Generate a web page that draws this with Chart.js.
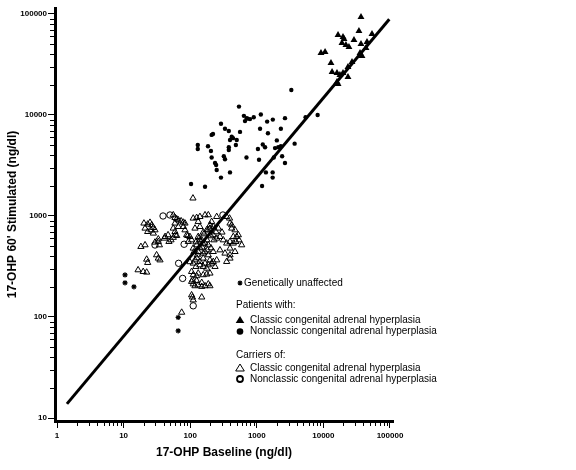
<!DOCTYPE html>
<html>
<head>
<meta charset="utf-8">
<title>17-OHP baseline vs stimulated</title>
<script src="https://cdn.jsdelivr.net/npm/chart.js@4.4.0/dist/chart.umd.min.js"></script>
<style>
  html, body { margin: 0; padding: 0; background: #fff; }
  #wrap { width: 576px; height: 470px; }
</style>
</head>
<body>
<div id="wrap"><canvas id="myChart" width="576" height="470"></canvas></div>
<script>
// values, [baseline, stimulated] in ng/dl
const unaffected = [[10.5, 261], [10.5, 218], [14.3, 199], [66, 99], [66, 73]];

const patientsClassic = [
  [36700, 93300], [34200, 67900], [16600, 61900], [19700, 59200], [20400, 56500],
  [28800, 55300], [53700, 63400], [19000, 51600], [21800, 49300], [24200, 47100],
  [36700, 50500], [45200, 52800], [9200, 41100], [10600, 42100], [35500, 41100],
  [38000, 38400], [13000, 32700], [13500, 26700], [16000, 26100], [17700, 24900],
  [19700, 26100], [23400, 29900], [23400, 23800], [16000, 21200], [16600, 20300],
  [26900, 33500], [43600, 46100]
];

const patientsNonclassic = [
  [540, 12100], [640, 9800], [705, 9300], [730, 9200], [665, 8700], [790, 9100],
  [900, 9500], [1150, 10100], [1430, 8600], [1740, 9000], [2650, 9300], [5400, 9500],
  [8200, 10000], [290, 8200], [333, 7300], [380, 6950], [560, 6800], [1120, 7300],
  [1470, 6600], [2300, 7300], [210, 6350], [220, 6500], [420, 6100], [440, 5900],
  [396, 5650], [500, 5650], [485, 5050], [2000, 5600], [3700, 5200], [130, 5050],
  [130, 4600], [185, 4900], [380, 4800], [380, 4500], [1040, 4600], [1230, 5100],
  [1330, 4800], [1880, 4700], [2100, 4800], [2300, 4900], [205, 4400], [210, 3800],
  [320, 3900], [333, 3650], [700, 3800], [1080, 3600], [1800, 3800], [2400, 3900],
  [236, 3350], [245, 3200], [2650, 3350], [250, 2850], [396, 2700], [1370, 2700],
  [1730, 2700], [1730, 2400], [290, 2400], [103, 2075], [167, 1950], [1200, 1980],
  [3300, 17700]
];

const carriersClassic = [
  [55.7, 1023], [59.1, 962], [62.7, 934], [66.3, 913], [73, 892], [78.8, 865],
  [20.2, 847], [23, 828], [24.9, 862], [26.5, 814], [28, 766], [29.6, 726], [23, 699], [25.8, 726],
  [59.1, 847], [66.3, 783], [55.7, 755], [59.1, 699], [62.7, 638], [83.5, 726], [92, 638],
  [41, 601], [33.2, 591], [29.6, 549], [34.5, 516], [18.2, 497], [48, 557], [51.5, 578],
  [55.7, 612], [60, 649], [31.3, 411], [33.2, 381], [35.2, 366], [22.2, 372], [23, 345],
  [16.5, 292], [19.7, 281], [22.2, 277], [21, 755], [28, 674], [21, 516], [33.2, 557],
  [42, 624], [46.5, 649], [140, 984], [187, 1023], [250, 984], [420, 814], [471, 726],
  [499, 624], [444, 537], [396, 479], [210, 340], [236, 315], [177, 303], [198, 271],
  [105, 165], [111, 147], [74.5, 111], [110, 1500], [83.5, 847], [78.8, 783], [111, 949],
  [125, 962], [132, 879], [140, 783], [118, 755], [167, 1023], [210, 879], [198, 814],
  [353, 984], [390, 949], [396, 847], [420, 755], [528, 649], [444, 624], [88.5, 649],
  [99, 624], [105, 578], [93.6, 557], [132, 624], [149, 578], [167, 537], [187, 516],
  [222, 649], [250, 601], [280, 624], [314, 578], [353, 537], [396, 557], [485, 557],
  [540, 578], [593, 516], [111, 479], [132, 443], [157, 427], [187, 411], [222, 443],
  [280, 460], [333, 427], [396, 411], [471, 443], [118, 366], [140, 353], [167, 340],
  [198, 366], [222, 353], [250, 366], [353, 353], [396, 381], [111, 340], [122, 315],
  [140, 327], [157, 315], [187, 327], [105, 281], [111, 261], [125, 255], [132, 271],
  [157, 261], [177, 265], [105, 224], [111, 212], [118, 203], [132, 207], [149, 200],
  [167, 203], [187, 212], [198, 203], [108, 232], [125, 229], [149, 219], [108, 157],
  [149, 157], [157, 690], [177, 726], [198, 755], [222, 785], [140, 578], [125, 516],
  [152, 490], [182, 460], [128, 411], [157, 381], [265, 755], [300, 690],
  [122, 553], [136, 605], [161, 663], [179, 578], [205, 634], [114, 441], [140, 482],
  [167, 441], [205, 482], [99, 351], [126, 384], [228, 578], [185, 726], [244, 695],
  [157, 528]
];

const carriersNonclassic = [
  [39.1, 1000], [49.7, 1023], [29.6, 516], [81, 525], [67, 340], [77, 241],
  [111, 129], [310, 1023]
];

// regression line end points
const fitLine = [[1.41, 13.8], [97700, 88500]];

// axis ticks
const decades = [1, 10, 100, 1000, 10000, 100000];
const minorSteps = [2, 3, 4, 5, 6, 7, 8, 9];
const yDecades = [10, 100, 1000, 10000, 100000];

const legendRows = [
  { text: 'Genetically unaffected', mark: 'star' },
  { text: 'Patients with:', head: true },
  { text: 'Classic congenital adrenal hyperplasia', mark: 'triFill' },
  { text: 'Nonclassic congenital adrenal hyperplasia', mark: 'dot' },
  { text: 'Carriers of:', head: true },
  { text: 'Classic congenital adrenal hyperplasia', mark: 'triOpen' },
  { text: 'Nonclassic congenital adrenal hyperplasia', mark: 'ring' }
];

function toXY(arr) { return arr.map(p => ({ x: p[0], y: p[1] })); }

function tickList(majors) {
  const out = [];
  majors.forEach((d, i) => {
    out.push({ value: d, major: true });
    if (i < majors.length - 1) minorSteps.forEach(m => out.push({ value: d * m, major: false }));
  });
  return out;
}

const FONT = '"Liberation Sans", Arial, sans-serif';

const extras = {
  id: 'extras',
  afterDraw(chart) {
    const ctx = chart.ctx;
    const area = chart.chartArea;
    const xs = chart.scales.x, ys = chart.scales.y;
    ctx.save();
    // minor ticks (shorter than the major ones)
    ctx.strokeStyle = '#000';
    ctx.lineWidth = 1;
    ctx.beginPath();
    xs.ticks.forEach(t => {
      if (t.major) return;
      const px = Math.round(xs.getPixelForValue(t.value)) + 0.5;
      ctx.moveTo(px, area.bottom + 1);
      ctx.lineTo(px, area.bottom + 5);
    });
    ys.ticks.forEach(t => {
      if (t.major) return;
      const py = Math.round(ys.getPixelForValue(t.value)) + 0.5;
      ctx.moveTo(area.left - 5, py);
      ctx.lineTo(area.left - 1, py);
    });
    ctx.stroke();

    // legend
    const ys0 = [283, 305, 320, 331.5, 355, 368, 379];
    ctx.font = '10px ' + FONT;
    ctx.textBaseline = 'middle';
    ctx.fillStyle = '#000';
    legendRows.forEach((row, i) => {
      const y = ys0[i];
      if (row.head) { ctx.fillText(row.text, 236, y); return; }
      const mx = 240;
      ctx.beginPath();
      if (row.mark === 'star') {
        ctx.lineWidth = 1.2;
        for (let k = 0; k < 4; k++) {
          const a = k * Math.PI / 4;
          ctx.moveTo(mx - 2.5 * Math.cos(a), y - 2.5 * Math.sin(a));
          ctx.lineTo(mx + 2.5 * Math.cos(a), y + 2.5 * Math.sin(a));
        }
        ctx.stroke();
        ctx.fillText(row.text, 244, y);
        return;
      }
      if (row.mark === 'triFill' || row.mark === 'triOpen') {
        ctx.moveTo(mx, y - 4);
        ctx.lineTo(mx + 4.3, y + 3);
        ctx.lineTo(mx - 4.3, y + 3);
        ctx.closePath();
        if (row.mark === 'triFill') ctx.fill();
        else { ctx.lineWidth = 1; ctx.stroke(); }
      } else if (row.mark === 'dot') {
        ctx.arc(mx, y, 3.3, 0, Math.PI * 2);
        ctx.fill();
      } else {
        ctx.lineWidth = 1.8;
        ctx.arc(mx, y, 3, 0, Math.PI * 2);
        ctx.stroke();
      }
      ctx.fillText(row.text, 250, y);
    });
    ctx.restore();
  }
};

const ctx = document.getElementById('myChart');
new Chart(ctx, {
  type: 'scatter',
  data: {
    datasets: [
      {
        label: 'Carriers classic',
        data: toXY(carriersClassic),
        pointStyle: 'triangle',
        pointRadius: 3.6,
        borderColor: '#000',
        backgroundColor: 'rgba(0,0,0,0)',
        borderWidth: 1
      },
      {
        label: 'Carriers nonclassic',
        data: toXY(carriersNonclassic),
        pointStyle: 'circle',
        pointRadius: 3.2,
        borderColor: '#000',
        backgroundColor: 'rgba(0,0,0,0)',
        borderWidth: 1
      },
      {
        label: 'Patients nonclassic',
        data: toXY(patientsNonclassic),
        pointStyle: 'circle',
        pointRadius: 2.2,
        borderColor: '#000',
        backgroundColor: '#000',
        borderWidth: 0
      },
      {
        label: 'Patients classic',
        data: toXY(patientsClassic),
        pointStyle: 'triangle',
        pointRadius: 4,
        borderColor: '#000',
        backgroundColor: '#000',
        borderWidth: 0
      },
      {
        label: 'Genetically unaffected',
        data: toXY(unaffected),
        pointStyle: 'star',
        pointRadius: 2.6,
        borderColor: '#000',
        borderWidth: 1.2
      },
      {
        type: 'line',
        label: 'fit',
        data: toXY(fitLine),
        borderColor: '#000',
        borderWidth: 3,
        pointRadius: 0,
        fill: false
      }
    ]
  },
  options: {
    responsive: false,
    animation: false,
    layout: { padding: { top: 8, right: 183, left: 0, bottom: 0 } },
    plugins: {
      legend: { display: false },
      tooltip: { enabled: false }
    },
    scales: {
      x: {
        type: 'logarithmic',
        min: 0.933,
        max: 111000,
        afterBuildTicks: scale => { scale.ticks = tickList(decades); },
        afterFit: scale => { scale.height = 49; },
        border: { display: true, color: '#000', width: 3 },
        grid: {
          drawOnChartArea: false,
          drawTicks: true,
          tickLength: 7,
          tickWidth: 1,
          tickColor: c => (c.tick && c.tick.major ? '#000' : 'rgba(0,0,0,0)')
        },
        ticks: {
          autoSkip: false,
          maxRotation: 0,
          padding: 3,
          color: '#000',
          font: { family: FONT, size: 8, weight: 'bold' },
          callback: (v, i, ticks) => (ticks[i].major ? String(v) : '')
        },
        title: {
          display: true,
          text: '17-OHP Baseline (ng/dl)',
          color: '#000',
          font: { family: FONT, size: 12, weight: 'bold' },
          padding: { top: 4, bottom: 10 }
        }
      },
      y: {
        type: 'logarithmic',
        min: 9.34,
        max: 114600,
        afterBuildTicks: scale => { scale.ticks = tickList(yDecades); },
        afterFit: scale => { scale.width = 55; },
        border: { display: true, color: '#000', width: 3 },
        grid: {
          drawOnChartArea: false,
          drawTicks: true,
          tickLength: 7,
          tickWidth: 1,
          tickColor: c => (c.tick && c.tick.major ? '#000' : 'rgba(0,0,0,0)')
        },
        ticks: {
          autoSkip: false,
          padding: 1,
          color: '#000',
          font: { family: FONT, size: 8, weight: 'bold' },
          callback: (v, i, ticks) => (ticks[i].major ? String(v) : '')
        },
        title: {
          display: true,
          text: "17-OHP 60' Stimulated (ng/dl)",
          color: '#000',
          font: { family: FONT, size: 12, weight: 'bold' },
          padding: { top: 5, bottom: 0 }
        }
      }
    }
  },
  plugins: [extras]
});
</script>
</body>
</html>
